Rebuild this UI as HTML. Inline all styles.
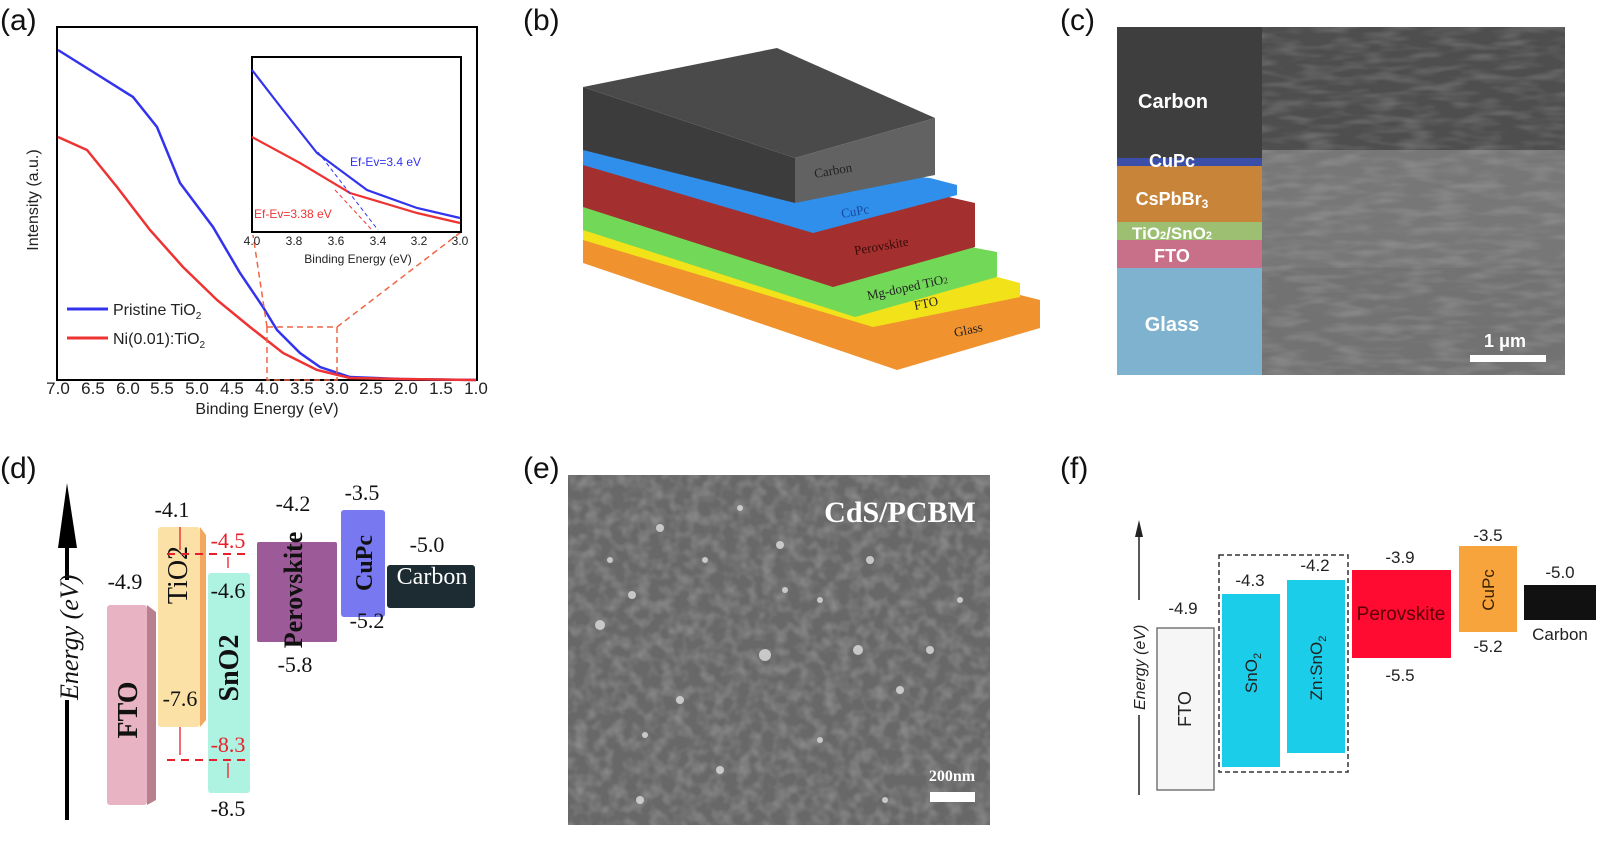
<!DOCTYPE html>
<html><head><meta charset="utf-8"><style>
html,body{margin:0;padding:0;background:#fff;}
svg{display:block;}
text{font-family:"Liberation Sans",sans-serif;}
text.s,.s text{font-family:"Liberation Serif",serif;}
</style></head><body>
<svg width="1600" height="845" viewBox="0 0 1600 845" xmlns="http://www.w3.org/2000/svg">
<defs>
<filter id="noise" x="0" y="0" width="100%" height="100%">
<feTurbulence type="fractalNoise" baseFrequency="0.08" numOctaves="2" seed="3"/>
<feColorMatrix type="matrix" values="0 0 0 0 0.55  0 0 0 0 0.55  0 0 0 0 0.55  0 0 0 1.2 -0.45"/>
</filter>
<filter id="noise2" x="0" y="0" width="100%" height="100%">
<feTurbulence type="fractalNoise" baseFrequency="0.03 0.12" numOctaves="2" seed="7"/>
<feColorMatrix type="matrix" values="0 0 0 0 0.6  0 0 0 0 0.6  0 0 0 0 0.6  0 0 0 1.0 -0.4"/>
</filter>
</defs>

<!-- Panel letters -->
<g font-size="30" fill="#111">
<text x="0" y="30">(a)</text><text x="523" y="30">(b)</text><text x="1060" y="30">(c)</text>
<text x="0" y="478">(d)</text><text x="523" y="478">(e)</text><text x="1060" y="478">(f)</text>
</g>

<!-- Panel (a) -->
<rect x="57" y="27" width="420" height="353" fill="none" stroke="#000" stroke-width="2"/>
<g font-size="17" fill="#222" text-anchor="middle">
<text x="58" y="394">7.0</text><text x="93" y="394">6.5</text><text x="128" y="394">6.0</text><text x="162" y="394">5.5</text><text x="197" y="394">5.0</text><text x="232" y="394">4.5</text><text x="267" y="394">4.0</text><text x="302" y="394">3.5</text><text x="337" y="394">3.0</text><text x="371" y="394">2.5</text><text x="406" y="394">2.0</text><text x="441" y="394">1.5</text><text x="476" y="394">1.0</text>
<text x="267" y="414" font-size="16">Binding Energy (eV)</text>
<text transform="translate(38,200) rotate(-90)" font-size="16">Intensity (a.u.)</text>
</g>
<polyline fill="none" stroke="#3333ee" stroke-width="2.5" points="58,50 90,70 133,97 157,127 180,183 213,227 240,273 263,307 277,330 300,353 320,367 350,377 400,379 476,380"/>
<polyline fill="none" stroke="#ee3333" stroke-width="2.5" points="58,137 87,150 117,187 150,230 183,267 217,300 250,327 283,353 317,370 350,378 400,379 476,380"/>
<line x1="67" y1="309" x2="108" y2="309" stroke="#3333ee" stroke-width="3"/>
<line x1="67" y1="338" x2="108" y2="338" stroke="#ee3333" stroke-width="3"/>
<text x="113" y="315" font-size="16" fill="#222">Pristine TiO<tspan font-size="10" dy="4">2</tspan></text>
<text x="113" y="344" font-size="16" fill="#222">Ni(0.01):TiO<tspan font-size="10" dy="4">2</tspan></text>
<g stroke="#ee6644" stroke-width="1.5" stroke-dasharray="6,4" fill="none">
<rect x="267" y="327" width="70" height="53"/>
<line x1="267" y1="327" x2="253" y2="235"/>
<line x1="337" y1="327" x2="461" y2="232"/>
</g>
<rect x="252" y="57" width="209" height="175" fill="#fff" stroke="#000" stroke-width="2"/>
<polyline fill="none" stroke="#3333ee" stroke-width="2.2" points="252,70 283,110 317,153 367,190 417,208 460,218"/>
<polyline fill="none" stroke="#ee3333" stroke-width="2.2" points="252,137 300,163 350,193 417,213 460,223"/>
<line x1="318" y1="152" x2="378" y2="230" stroke="#3333ee" stroke-dasharray="4,3"/>
<line x1="335" y1="190" x2="372" y2="230" stroke="#ee3333" stroke-dasharray="4,3"/>
<text x="350" y="166" font-size="12" fill="#3333ee">Ef-Ev=3.4 eV</text>
<text x="254" y="218" font-size="12" fill="#ee3333">Ef-Ev=3.38 eV</text>
<g font-size="12" fill="#222" text-anchor="middle">
<text x="252" y="245">4.0</text><text x="294" y="245">3.8</text><text x="336" y="245">3.6</text><text x="378" y="245">3.4</text><text x="419" y="245">3.2</text><text x="460" y="245">3.0</text>
<text x="358" y="263">Binding Energy (eV)</text>
</g>

<!-- Panel (b) -->
<polygon points="583,232 1000,290 1040,300 1040,328 897,370 583,263" fill="#f0922e"/>
<polygon points="583,225 990,275 1020,283 1020,297 873,327 583,240" fill="#f2e21a"/>
<polygon points="583,205 960,245 997,252 997,277 855,317 583,230" fill="#72d858"/>
<polygon points="583,160 940,195 975,203 975,247 833,287 583,207" fill="#a3302e"/>
<polygon points="583,145 930,178 957,185 957,195 813,233 583,165" fill="#2f8fea"/>
<polygon points="583,150 795,203 795,158 583,87" fill="#3c3c3c"/>
<polygon points="583,87 777,48 935,118 795,158" fill="#4a4a4a"/>
<polygon points="795,158 935,118 935,175 795,203" fill="#626262"/>
<g class="s" font-size="13" fill="#222">
<text transform="translate(815,178) rotate(-10)">Carbon</text>
<text transform="translate(842,218) rotate(-10)" fill="#1a4aa0">CuPc</text>
<text transform="translate(855,255) rotate(-10)" fill="#3a0a0a">Perovskite</text>
<text transform="translate(868,300) rotate(-12)">Mg-doped TiO<tspan font-size="9">2</tspan></text>
<text transform="translate(915,310) rotate(-12)">FTO</text>
<text transform="translate(955,337) rotate(-12)">Glass</text>
</g>

<!-- Panel (c) -->
<rect x="1117" y="27" width="448" height="348" fill="#6a6a6a"/>
<rect x="1262" y="27" width="303" height="125" fill="#4e4e4e"/>
<rect x="1262" y="150" width="303" height="120" fill="#777"/>
<rect x="1262" y="268" width="303" height="107" fill="#727272"/>
<rect x="1262" y="27" width="303" height="348" filter="url(#noise2)" opacity="0.5"/>
<rect x="1117" y="27" width="145" height="132" fill="#3e3e3e"/>
<rect x="1117" y="158" width="145" height="8" fill="#3b4fa8"/>
<rect x="1117" y="166" width="145" height="56" fill="#c8853a"/>
<rect x="1117" y="222" width="145" height="18" fill="#9cbf72"/>
<rect x="1117" y="240" width="145" height="28" fill="#c8708a"/>
<rect x="1117" y="268" width="145" height="107" fill="#7fb2cf"/>
<g font-size="20" font-weight="bold" fill="#fff" text-anchor="middle">
<text x="1173" y="108">Carbon</text>
<text x="1172" y="167" font-size="18">CuPc</text>
<text x="1172" y="205" font-size="18">CsPbBr<tspan font-size="12" dy="3">3</tspan></text>
<text x="1172" y="239" font-size="17">TiO<tspan font-size="11">2</tspan>/SnO<tspan font-size="11">2</tspan></text>
<text x="1172" y="262" font-size="18">FTO</text>
<text x="1172" y="331">Glass</text>
<text x="1505" y="347" font-size="18">1 μm</text>
</g>
<rect x="1470" y="355" width="76" height="7" fill="#fff"/>

<!-- Panel (d) -->
<line x1="67" y1="530" x2="67" y2="820" stroke="#000" stroke-width="4"/>
<polygon points="67,483 58,548 77,548" fill="#000"/>
<rect x="52" y="580" width="30" height="120" fill="#fff"/>
<text class="s" transform="translate(78,700) rotate(-90)" font-size="26" font-style="italic" fill="#111">Energy (eV)</text>
<polygon points="147,605 156,612 156,800 147,805" fill="#b8808e"/>
<rect x="107" y="605" width="40" height="200" rx="3" fill="#e8b4c4"/>
<polygon points="200,527 206,535 206,720 200,727" fill="#f2a860"/>
<rect x="158" y="527" width="42" height="200" rx="3" fill="#fbe1a6"/>
<rect x="208" y="573" width="42" height="220" rx="3" fill="#aef2e2"/>
<rect x="257" y="542" width="80" height="100" rx="2" fill="#9c5a98"/>
<rect x="341" y="510" width="44" height="107" rx="3" fill="#7878f0"/>
<rect x="387" y="565" width="88" height="43" rx="3" fill="#1c2c32"/>
<g class="s" font-size="22" fill="#111" text-anchor="middle">
<text x="125" y="589">-4.9</text><text x="172" y="517">-4.1</text><text x="180" y="706">-7.6</text>
<text x="228" y="598">-4.6</text><text x="228" y="816">-8.5</text>
<text x="293" y="511">-4.2</text><text x="295" y="672">-5.8</text>
<text x="362" y="500">-3.5</text><text x="367" y="628">-5.2</text><text x="427" y="552">-5.0</text>
<text x="228" y="548" fill="#e8202a">-4.5</text><text x="228" y="752" fill="#e8202a">-8.3</text>
</g>
<g class="s" font-size="28" font-weight="bold" fill="#111" text-anchor="middle">
<text transform="translate(137,710) rotate(-90)">FTO</text>
<text transform="translate(187,575) rotate(-90)" font-weight="normal">TiO2</text>
<text transform="translate(238,668) rotate(-90)">SnO2</text>
<text transform="translate(302,590) rotate(-90)" font-size="26">Perovskite</text>
<text transform="translate(372,563) rotate(-90)" font-size="24">CuPc</text>
<text x="432" y="584" font-size="24" font-weight="normal" fill="#fff">Carbon</text>
</g>
<g stroke="#e8202a" stroke-width="2" stroke-dasharray="8,6">
<line x1="167" y1="554" x2="248" y2="554"/><line x1="167" y1="760" x2="248" y2="760"/>
</g>
<g stroke="#e8202a" stroke-width="1.3">
<line x1="180" y1="527" x2="180" y2="550"/><line x1="228" y1="568" x2="228" y2="557"/>
<line x1="180" y1="727" x2="180" y2="755"/><line x1="228" y1="778" x2="228" y2="763"/>
</g>

<!-- Panel (e) -->
<rect x="568" y="475" width="422" height="350" fill="#686868"/>
<rect x="568" y="475" width="422" height="350" filter="url(#noise)" opacity="0.6"/>
<g fill="#d8d8d8" opacity="0.85">
<circle cx="660" cy="528" r="4"/><circle cx="780" cy="545" r="4"/><circle cx="740" cy="508" r="3"/>
<circle cx="600" cy="625" r="5"/><circle cx="632" cy="595" r="4"/><circle cx="765" cy="655" r="6"/>
<circle cx="858" cy="650" r="5"/><circle cx="900" cy="690" r="4"/><circle cx="930" cy="650" r="4"/>
<circle cx="820" cy="600" r="3"/><circle cx="680" cy="700" r="4"/><circle cx="645" cy="735" r="3"/>
<circle cx="705" cy="560" r="3"/><circle cx="870" cy="560" r="4"/><circle cx="720" cy="770" r="4"/>
<circle cx="820" cy="740" r="3"/><circle cx="610" cy="560" r="3"/><circle cx="960" cy="600" r="3"/>
<circle cx="785" cy="590" r="3"/><circle cx="640" cy="800" r="4"/><circle cx="885" cy="800" r="3"/>
</g>
<text class="s" x="900" y="522" font-size="30" font-weight="bold" fill="#fff" text-anchor="middle">CdS/PCBM</text>
<text class="s" x="952" y="781" font-size="16" font-weight="bold" fill="#fff" text-anchor="middle">200nm</text>
<rect x="930" y="792" width="45" height="10" fill="#fff"/>

<!-- Panel (f) -->
<line x1="1139" y1="535" x2="1139" y2="795" stroke="#222" stroke-width="1.5"/>
<polygon points="1139,520 1135,537 1143,537" fill="#222"/>
<rect x="1130" y="600" width="18" height="115" fill="#fff"/>
<text transform="translate(1145,710) rotate(-90)" font-size="16" font-style="italic" fill="#222">Energy (eV)</text>
<rect x="1157" y="628" width="57" height="162" fill="#f6f6f6" stroke="#777" stroke-width="1.5"/>
<rect x="1219" y="555" width="129" height="217" fill="none" stroke="#333" stroke-width="1.5" stroke-dasharray="5,3"/>
<rect x="1222" y="594" width="58" height="173" fill="#1bcde8"/>
<rect x="1287" y="580" width="58" height="173" fill="#1bcde8"/>
<rect x="1352" y="570" width="99" height="88" fill="#ff0a30"/>
<rect x="1459" y="546" width="58" height="86" fill="#f8a43c"/>
<rect x="1524" y="585" width="72" height="35" fill="#111"/>
<g font-size="17" fill="#222" text-anchor="middle">
<text x="1183" y="614">-4.9</text><text x="1250" y="586">-4.3</text><text x="1315" y="571">-4.2</text>
<text x="1400" y="563">-3.9</text><text x="1400" y="681">-5.5</text>
<text x="1488" y="541">-3.5</text><text x="1488" y="652">-5.2</text>
<text x="1560" y="578">-5.0</text><text x="1560" y="640">Carbon</text>
<text transform="translate(1191,709) rotate(-90)" font-size="18">FTO</text>
<text transform="translate(1257,673) rotate(-90)">SnO<tspan font-size="11" dy="4">2</tspan></text>
<text transform="translate(1322,668) rotate(-90)">Zn:SnO<tspan font-size="11" dy="4">2</tspan></text>
<text x="1401" y="620" font-size="19" fill="#5a0008">Perovskite</text>
<text transform="translate(1494,590) rotate(-90)" font-size="17" fill="#3a2000">CuPc</text>
</g>
</svg>
</body></html>
